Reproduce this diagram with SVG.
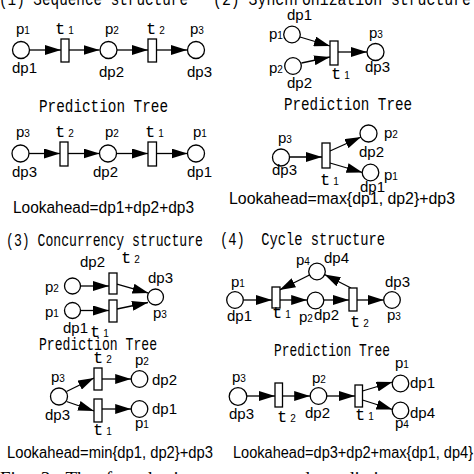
<svg xmlns="http://www.w3.org/2000/svg" width="474" height="474" viewBox="0 0 474 474">
<style>
.bg{fill:#fff}
.pl{fill:#fff;stroke:#000;stroke-width:1.3}
.tr{fill:#fff;stroke:#000;stroke-width:1.3}
.cn{stroke:#000;stroke-width:1.3;fill:none;marker-end:url(#ah)}
.ttl{font-family:"Liberation Mono","DejaVu Sans Mono",monospace;font-size:18px;fill:#000}
.lb{font-family:"Liberation Sans",Arial,sans-serif;font-size:15px;fill:#000}
.tl{font-family:"Liberation Mono","DejaVu Sans Mono",monospace;font-size:17px;fill:#000}
.sub{font-family:"Liberation Sans",Arial,sans-serif;font-size:10px}
.la{font-family:"Liberation Sans",Arial,sans-serif;font-size:16px;fill:#000}
.cap{font-family:"Liberation Serif","Times New Roman",serif;font-size:19px;fill:#000}
</style>
<defs>
<marker id="ah" viewBox="0 0 16 10" refX="16" refY="5" markerWidth="16" markerHeight="10" markerUnits="userSpaceOnUse" orient="auto"><path d="M0,0 L16,5 L0,10 z" fill="#000"/></marker>
</defs>
<rect class="bg" x="0" y="0" width="474" height="474"/>

<!-- titles -->
<text class="ttl" x="-1" y="5" textLength="189" lengthAdjust="spacingAndGlyphs">(1) Sequence structure</text>
<text class="ttl" x="213" y="5" textLength="258" lengthAdjust="spacingAndGlyphs">(2) Synchronization structure</text>
<text class="ttl" x="39" y="111.5" textLength="129" lengthAdjust="spacingAndGlyphs">Prediction Tree</text>
<text class="ttl" x="284" y="110" textLength="128" lengthAdjust="spacingAndGlyphs">Prediction Tree</text>
<text class="ttl" x="6" y="246" textLength="197" lengthAdjust="spacingAndGlyphs">(3) Concurrency structure</text>
<text class="ttl" x="220" y="245" textLength="165" lengthAdjust="spacingAndGlyphs" xml:space="preserve">(4)  Cycle structure</text>
<text class="ttl" x="39" y="350" textLength="118" lengthAdjust="spacingAndGlyphs">Prediction Tree</text>
<text class="ttl" x="274" y="356" textLength="116" lengthAdjust="spacingAndGlyphs">Prediction Tree</text>
<text class="la" x="13" y="213" textLength="181" lengthAdjust="spacingAndGlyphs">Lookahead=dp1+dp2+dp3</text>
<text class="la" x="229" y="204" textLength="226" lengthAdjust="spacingAndGlyphs">Lookahead=max{dp1, dp2}+dp3</text>
<text class="la" x="7" y="458" textLength="206" lengthAdjust="spacingAndGlyphs">Lookahead=min{dp1, dp2}+dp3</text>
<text class="la" x="233" y="458" textLength="240" lengthAdjust="spacingAndGlyphs">Lookahead=dp3+dp2+max{dp1, dp4}</text>
<text class="cap" x="0" y="485" word-spacing="6">Fig. 3. The four basic structures and prediction trees</text>

<!-- connectors -->
<g id="connectors">
<line class="cn" x1="29.5" y1="50" x2="61" y2="50"/>
<line class="cn" x1="69" y1="50" x2="99.5" y2="50"/>
<line class="cn" x1="117" y1="50" x2="148" y2="50"/>
<line class="cn" x1="156.5" y1="50" x2="187" y2="50"/>
<line class="cn" x1="29" y1="153.5" x2="60" y2="153.5"/>
<line class="cn" x1="68" y1="153.5" x2="99.5" y2="153.5"/>
<line class="cn" x1="116.5" y1="153.5" x2="148" y2="153.5"/>
<line class="cn" x1="156.5" y1="153.5" x2="187.5" y2="153.5"/>
<line class="cn" x1="300" y1="37" x2="330" y2="46"/>
<line class="cn" x1="301.5" y1="63" x2="330" y2="57"/>
<line class="cn" x1="338" y1="52" x2="367" y2="52"/>
<line class="cn" x1="289.5" y1="157" x2="322" y2="157"/>
<line class="cn" x1="330" y1="151" x2="361" y2="137"/>
<line class="cn" x1="330" y1="163" x2="362.5" y2="172.5"/>
<line class="cn" x1="80.5" y1="286" x2="109" y2="286"/>
<line class="cn" x1="80.5" y1="310.5" x2="109" y2="310.5"/>
<line class="cn" x1="117" y1="284" x2="148.5" y2="293"/>
<line class="cn" x1="117" y1="309" x2="148" y2="302.5"/>
<line class="cn" x1="66.5" y1="391.5" x2="94" y2="378"/>
<line class="cn" x1="66.5" y1="401.5" x2="94" y2="411"/>
<line class="cn" x1="102" y1="379" x2="131.2" y2="379"/>
<line class="cn" x1="102" y1="409" x2="131.2" y2="409"/>
<line class="cn" x1="243.3" y1="300" x2="272" y2="300"/>
<line class="cn" x1="280" y1="300" x2="307.2" y2="300"/>
<line class="cn" x1="323.8" y1="300" x2="349" y2="300"/>
<line class="cn" x1="357" y1="300" x2="383.7" y2="300"/>
<line class="cn" x1="351" y1="288" x2="324.5" y2="274.5"/>
<line class="cn" x1="309.5" y1="275" x2="279.5" y2="290"/>
<line class="cn" x1="246.8" y1="396" x2="275" y2="396"/>
<line class="cn" x1="282.5" y1="396" x2="310.2" y2="396"/>
<line class="cn" x1="326.8" y1="396" x2="355" y2="396"/>
<line class="cn" x1="362.5" y1="391" x2="392.5" y2="382"/>
<line class="cn" x1="362.5" y1="400" x2="392.5" y2="409.5"/>
</g>

<!-- Panel 1: sequence structure -->
<g id="s1-p1"><circle class="pl" cx="21" cy="50" r="8.5"/><text class="lb" x="16" y="34">p<tspan class="sub">1</tspan></text><text class="lb" x="12" y="73">dp1</text></g>
<g id="s1-t1"><rect class="tr" x="61" y="39" width="8" height="23"/><text class="tl" x="55" y="34">t<tspan class="sub" dx="3">1</tspan></text></g>
<g id="s1-p2"><circle class="pl" cx="108.5" cy="50" r="8.5"/><text class="lb" x="105" y="34">p<tspan class="sub">2</tspan></text><text class="lb" x="99" y="77">dp2</text></g>
<g id="s1-t2"><rect class="tr" x="148" y="39" width="8.5" height="23"/><text class="tl" x="146" y="34">t<tspan class="sub" dx="3">2</tspan></text></g>
<g id="s1-p3"><circle class="pl" cx="196" cy="50" r="8.5"/><text class="lb" x="190" y="34">p<tspan class="sub">3</tspan></text><text class="lb" x="187" y="77">dp3</text></g>

<g id="s1t-p3"><circle class="pl" cx="20.5" cy="153.5" r="8.5"/><text class="lb" x="16" y="137">p<tspan class="sub">3</tspan></text><text class="lb" x="12" y="177">dp3</text></g>
<g id="s1t-t2"><rect class="tr" x="60" y="142" width="8" height="24"/><text class="tl" x="55" y="137">t<tspan class="sub" dx="3">2</tspan></text></g>
<g id="s1t-p2"><circle class="pl" cx="108" cy="153.5" r="8.5"/><text class="lb" x="105" y="137">p<tspan class="sub">2</tspan></text><text class="lb" x="93" y="177">dp2</text></g>
<g id="s1t-t1"><rect class="tr" x="148" y="142" width="8.5" height="24"/><text class="tl" x="145" y="137">t<tspan class="sub" dx="3">1</tspan></text></g>
<g id="s1t-p1"><circle class="pl" cx="196" cy="153.5" r="8.5"/><text class="lb" x="193" y="137">p<tspan class="sub">1</tspan></text><text class="lb" x="187" y="177">dp1</text></g>

<!-- Panel 2: synchronization structure -->
<g id="s2-p1"><circle class="pl" cx="292" cy="34.5" r="8.3"/><text class="lb" x="269" y="39">p<tspan class="sub">1</tspan></text><text class="lb" x="287" y="20">dp1</text></g>
<g id="s2-p2"><circle class="pl" cx="293" cy="66" r="8.3"/><text class="lb" x="269" y="73">p<tspan class="sub">2</tspan></text><text class="lb" x="287" y="88">dp2</text></g>
<g id="s2-t1"><rect class="tr" x="330" y="41" width="8" height="24"/><text class="tl" x="331" y="79">t<tspan class="sub" dx="3">1</tspan></text></g>
<g id="s2-p3"><circle class="pl" cx="375.5" cy="52" r="8.5"/><text class="lb" x="369" y="38">p<tspan class="sub">3</tspan></text><text class="lb" x="365" y="72">dp3</text></g>

<g id="s2t-p3"><circle class="pl" cx="281" cy="157.5" r="8.5"/><text class="lb" x="278" y="143">p<tspan class="sub">3</tspan></text><text class="lb" x="272" y="175">dp3</text></g>
<g id="s2t-t1"><rect class="tr" x="322" y="143" width="8" height="25"/><text class="tl" x="320" y="185">t<tspan class="sub" dx="3">1</tspan></text></g>
<g id="s2t-p2"><circle class="pl" cx="368.5" cy="133.5" r="8.5"/><text class="lb" x="384" y="138">p<tspan class="sub">2</tspan></text><text class="lb" x="359" y="157">dp2</text></g>
<g id="s2t-p1"><circle class="pl" cx="370.5" cy="172.5" r="8.3"/><text class="lb" x="384" y="180">p<tspan class="sub">1</tspan></text><text class="lb" x="360" y="192">dp1</text></g>

<!-- Panel 3: concurrency structure -->
<g id="s3-p2"><circle class="pl" cx="72.5" cy="286" r="8"/><text class="lb" x="45" y="292">p<tspan class="sub">2</tspan></text><text class="lb" x="80" y="267">dp2</text></g>
<g id="s3-t2"><rect class="tr" x="109" y="273" width="8" height="21"/><text class="tl" x="121" y="263">t<tspan class="sub" dx="3">2</tspan></text></g>
<g id="s3-p1"><circle class="pl" cx="72.5" cy="310.5" r="8"/><text class="lb" x="45" y="317">p<tspan class="sub">1</tspan></text><text class="lb" x="63" y="333">dp1</text></g>
<g id="s3-t1"><rect class="tr" x="109" y="300" width="8" height="22"/><text class="tl" x="90" y="337">t<tspan class="sub" dx="3">1</tspan></text></g>
<g id="s3-p3"><circle class="pl" cx="155.5" cy="297" r="8"/><text class="lb" x="153" y="318">p<tspan class="sub">3</tspan></text><text class="lb" x="148" y="283">dp3</text></g>

<g id="s3t-p3"><circle class="pl" cx="59" cy="396.5" r="8.5"/><text class="lb" x="51" y="382">p<tspan class="sub">3</tspan></text><text class="lb" x="45" y="420">dp3</text></g>
<g id="s3t-t2"><rect class="tr" x="94" y="368" width="8" height="22"/><text class="tl" x="93" y="363">t<tspan class="sub" dx="3">2</tspan></text></g>
<g id="s3t-t1"><rect class="tr" x="94" y="399" width="8" height="23"/><text class="tl" x="93" y="435">t<tspan class="sub" dx="3">1</tspan></text></g>
<g id="s3t-p2"><circle class="pl" cx="139.5" cy="379" r="8.3"/><text class="lb" x="135" y="365">p<tspan class="sub">2</tspan></text><text class="lb" x="152" y="385">dp2</text></g>
<g id="s3t-p1"><circle class="pl" cx="139.5" cy="409" r="8.3"/><text class="lb" x="135" y="428">p<tspan class="sub">1</tspan></text><text class="lb" x="152" y="414">dp1</text></g>

<!-- Panel 4: cycle structure -->
<g id="s4-p1"><circle class="pl" cx="235" cy="300" r="8.3"/><text class="lb" x="231" y="287">p<tspan class="sub">1</tspan></text><text class="lb" x="227" y="321">dp1</text></g>
<g id="s4-t1"><rect class="tr" x="272" y="287" width="8" height="21"/><text class="tl" x="272" y="318">t<tspan class="sub" dx="3">1</tspan></text></g>
<g id="s4-p2"><circle class="pl" cx="315.5" cy="300.5" r="8.3"/><text class="lb" x="299" y="322">p<tspan class="sub">2</tspan></text><text class="lb" x="314" y="320">dp2</text></g>
<g id="s4-t2"><rect class="tr" x="349" y="288" width="8" height="23"/><text class="tl" x="350" y="327">t<tspan class="sub" dx="3">2</tspan></text></g>
<g id="s4-p3"><circle class="pl" cx="392" cy="300" r="8.3"/><text class="lb" x="387" y="320">p<tspan class="sub">3</tspan></text><text class="lb" x="385" y="287">dp3</text></g>
<g id="s4-p4"><circle class="pl" cx="317" cy="271.5" r="8.3"/><text class="lb" x="296" y="265">p<tspan class="sub">4</tspan></text><text class="lb" x="324" y="263">dp4</text></g>

<g id="s4t-p3"><circle class="pl" cx="238" cy="396.5" r="8.8"/><text class="lb" x="232" y="382">p<tspan class="sub">3</tspan></text><text class="lb" x="229" y="419">dp3</text></g>
<g id="s4t-t2"><rect class="tr" x="275" y="383" width="7.5" height="24"/><text class="tl" x="277" y="422">t<tspan class="sub" dx="3">2</tspan></text></g>
<g id="s4t-p2"><circle class="pl" cx="318.5" cy="396" r="8.3"/><text class="lb" x="312" y="383">p<tspan class="sub">2</tspan></text><text class="lb" x="305" y="418">dp2</text></g>
<g id="s4t-t1"><rect class="tr" x="355" y="385" width="7.5" height="22"/><text class="tl" x="355" y="420">t<tspan class="sub" dx="3">1</tspan></text></g>
<g id="s4t-p1"><circle class="pl" cx="400.5" cy="383.5" r="8.3"/><text class="lb" x="395" y="368">p<tspan class="sub">1</tspan></text><text class="lb" x="410" y="388">dp1</text></g>
<g id="s4t-p4"><circle class="pl" cx="400.5" cy="410.5" r="8.3"/><text class="lb" x="395" y="428">p<tspan class="sub">4</tspan></text><text class="lb" x="410" y="418">dp4</text></g>
</svg>
